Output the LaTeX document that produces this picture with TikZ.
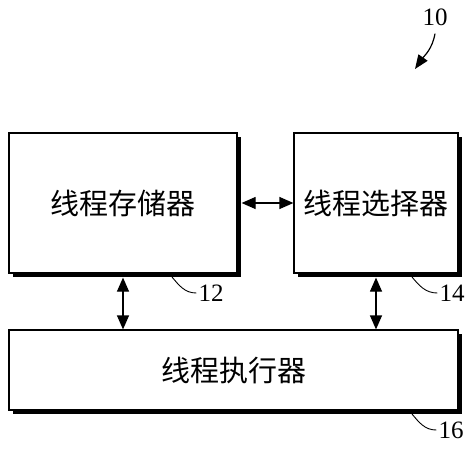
\documentclass[tikz,border=0pt]{standalone}
\usepackage{fontspec}
\setmainfont{Liberation Serif}
\newfontfamily\cjk{Noto Sans CJK SC}
\usetikzlibrary{shadows,arrows.meta}

\begin{document}
\begin{tikzpicture}[x=1pt,y=-1pt,
  unit/.style={shape=rectangle,draw=black,fill=white,line width=1.2pt,align=center,
    font=\cjk\fontsize{29}{29}\selectfont,
    drop shadow={shadow xshift=4pt,shadow yshift=-4pt,fill=black,opacity=1}},
  link/.style={{Triangle[length=14pt,width=12pt]}-{Triangle[length=14pt,width=12pt]},draw=black,line width=1.2pt},
  ref/.style={inner sep=2pt,font=\fontsize{25}{25}\selectfont},
  lead/.style={draw=black,line width=0.9pt}]
\useasboundingbox (0,0) rectangle (474,448);
\node[unit,minimum width=228pt,minimum height=140pt] (12) at (123,203) {线程存储器};
\node[unit,minimum width=164pt,minimum height=140pt] (14) at (376,203) {线程选择器};
\node[unit,minimum width=449pt,minimum height=80pt] (16) at (233.5,370) {线程执行器};

\node[ref] (l10) at (435,17) {10};
\node[ref] (l12) at (211,293) {12};
\node[ref] (l14) at (452,293) {14};
\node[ref] (l16) at (451,430) {16};

\coordinate (p10) at (415,69);
\coordinate (t12) at (172,277);
\coordinate (t14) at (412,277);
\coordinate (t16) at (412,414);

\path [link] ([xshift=4pt]12.east) -- (14.west);
\path [link] ([yshift=-4pt]12.south) -- (12.south |- 16.north);
\path [link] ([yshift=-4pt]14.south) -- (14.south |- 16.north);

\draw [lead] (t12) to[out=-50,in=180] (l12.west);
\draw [lead] (t14) to[out=-50,in=180] (l14.west);
\draw [lead] (t16) to[out=-50,in=180] (l16.west);
\draw [lead,line width=1.2pt,-{Triangle[length=14pt,width=11pt]}] ([yshift=-6pt]l10.south) to[out=-100,in=55] (p10);
\end{tikzpicture}
\end{document}
